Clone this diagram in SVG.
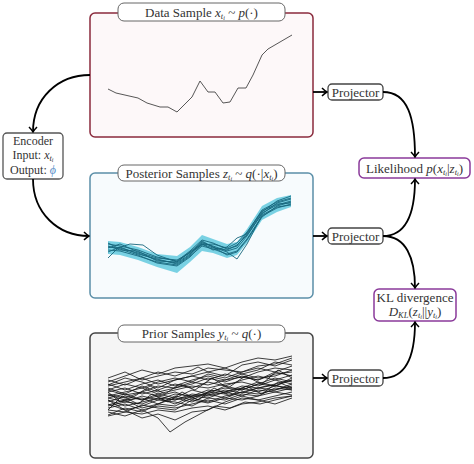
<svg xmlns="http://www.w3.org/2000/svg" width="474" height="464" viewBox="0 0 474 464">
<defs>
<style>
text{font-family:"Liberation Serif","DejaVu Serif",serif;font-size:13px;fill:#333;}
.m{font-style:italic;}
.s{font-size:8.5px;font-style:italic;}
.ss{font-size:6px;font-style:italic;}
.enc{font-size:12px;}
.pill{fill:#fff;stroke:#666;stroke-width:1;}
.proj{fill:#fff;stroke:#444;stroke-width:1.3;}
.conn{fill:none;stroke:#000;stroke-width:1.8;}
.prior polyline{fill:none;stroke:#111;stroke-width:0.9;stroke-opacity:0.9;}
.post polyline{fill:none;stroke:#17667d;stroke-width:0.9;}
</style>
<marker id="ah" viewBox="-6 -5 7 10" refX="0" refY="0" markerWidth="7" markerHeight="10" markerUnits="userSpaceOnUse" orient="auto">
<path d="M-5,-4 Q-2,-1 0,0 Q-2,1 -5,4" fill="none" stroke="#000" stroke-width="1.5"/>
</marker>
</defs>
<rect width="474" height="464" fill="#fff"/>

<g id="data">
<rect x="90" y="13" width="223" height="124" rx="5" fill="#fdf8f9" stroke="#8a2a3c" stroke-width="1.5"/>
<polyline fill="none" stroke="#444" stroke-width="0.9" points="108,89 116,93 138,98 147,103 160,107 168,107 177,112 192,97 200,81 208,92 215,92 223,103 230,102 238,88 246,88 253,75 262,55 268,49 280,42 292,35"/>
<rect class="pill" x="118" y="3" width="167" height="18" rx="6"/>
<text x="201.5" y="16.5" text-anchor="middle">Data Sample <tspan class="m">x</tspan><tspan class="s" dy="2">t</tspan><tspan class="ss" dy="1">i</tspan><tspan dy="-3"> ~ </tspan><tspan class="m">p</tspan>(·)</text>
</g>

<g id="encoder">
<rect x="3" y="133" width="60" height="46" rx="4" fill="#fff" stroke="#555" stroke-width="1.3"/>
<text class="enc" x="33" y="145" text-anchor="middle">Encoder</text>
<text class="enc" x="33" y="159" text-anchor="middle">Input: <tspan class="m">x</tspan><tspan class="s" dy="1.5">t</tspan><tspan class="ss" dy="1">i</tspan></text>
<text class="enc" x="33" y="174" text-anchor="middle">Output: <tspan class="m" style="fill:#5b8fc8">ϕ</tspan></text>
</g>

<g id="posterior">
<rect x="90" y="173" width="223" height="125" rx="5" fill="#f7fbfd" stroke="#5b8fa8" stroke-width="1.5"/>
<polygon fill="#4fc3d9" fill-opacity="0.75" points="108,241 120,242 138,247 157,254 177,256 190,247 202,235 213,239 227,244 237,242 247,229 262,206 277,198 291,195 291,207 277,212 262,220 247,243 237,255 227,258 213,253 202,251 190,262 177,273 157,267 138,260 120,255 108,254"/>
<g class="post">
<polyline points="108,247 120,248 138,253 157,260 177,263 190,254 202,243 213,246 227,251 237,248 247,236 262,213 277,205 291,201"/>
<polyline points="108,244 120,246 138,250 157,257 177,261 190,251 202,240 213,243 227,249 237,246 247,233 262,210 277,202 291,198"/>
<polyline points="108,250 120,251 138,256 157,262 177,265 190,256 202,246 213,249 227,254 237,251 247,239 262,216 277,208 291,204"/>
<polyline points="108,246 120,250 138,251 157,261 177,262 190,252 202,244 213,248 227,250 237,245 247,235 262,214 277,203 291,199"/>
<polyline points="108,252 120,247 138,254 157,259 177,264 190,255 202,241 213,247 227,255 237,252 247,240 262,217 277,206 291,202"/>
<polyline points="108,248 120,244 138,252 157,258 177,260 190,253 202,245 213,244 227,248 237,243 247,232 262,211 277,204 291,203"/>
<polyline points="108,258 118,248 130,244 143,245 157,255 177,262 190,252 202,242 213,247 227,252 237,259 247,244 262,215 277,207 291,205"/>
<polyline points="108,243 120,249 138,255 157,263 177,266 190,257 202,244 213,250 227,247 237,238 247,234 262,212 277,201 291,196"/>
</g>
<rect class="pill" x="118" y="165" width="167" height="16" rx="6"/>
<text x="201.5" y="177.5" text-anchor="middle">Posterior Samples <tspan class="m">z</tspan><tspan class="s" dy="2">t</tspan><tspan class="ss" dy="1">i</tspan><tspan dy="-3"> ~ </tspan><tspan class="m">q</tspan>(·|<tspan class="m">x</tspan><tspan class="s" dy="2">t</tspan><tspan class="ss" dy="1">i</tspan><tspan dy="-3">)</tspan></text>
</g>

<g id="prior">
<rect x="90" y="333" width="223" height="125" rx="5" fill="#f5f5f5" stroke="#444" stroke-width="1.5"/>
<g class="prior">
<polyline points="108,380 125,385 142,378 158,372 175,376 192,370 198,367 208,372 225,376 242,365 258,362 275,366 292,360"/>
<polyline points="108,405 125,400 142,408 158,404 175,398 192,402 208,395 225,390 242,393 258,388 275,385 292,390"/>
<polyline points="108,390 125,395 142,392 158,386 175,388 192,382 208,385 225,380 242,377 258,380 275,374 292,372"/>
<polyline points="108,410 125,412 142,405 158,408 175,410 192,400 208,403 225,398 242,400 258,396 275,392 292,395"/>
<polyline points="108,385 125,378 142,382 158,388 175,380 192,376 208,380 225,374 242,378 258,372 275,368 292,370"/>
<polyline points="108,398 125,402 142,396 158,400 175,394 192,396 208,390 225,392 242,386 258,388 275,384 292,380"/>
<polyline points="108,415 125,408 142,412 158,404 175,406 192,398 208,402 225,396 242,392 258,394 275,390 292,386"/>
<polyline points="108,392 125,388 142,394 158,390 175,384 192,388 208,382 225,386 242,380 258,376 275,380 292,375"/>
<polyline points="108,402 125,396 142,400 158,394 175,398 192,390 208,394 225,386 242,390 258,384 275,378 292,382"/>
<polyline points="108,395 125,400 142,398 158,404 175,396 192,400 208,392 225,394 242,388 258,382 275,386 292,378"/>
<polyline points="108,388 125,394 142,386 158,392 175,388 192,384 208,378 225,382 242,376 258,380 275,372 292,376"/>
<polyline points="108,408 125,404 142,410 158,418 170,432 185,422 200,414 215,406 230,408 245,402 260,404 275,400 292,396"/>
<polyline points="108,378 125,372 142,380 158,376 175,372 192,374 208,368 225,370 242,372 258,366 275,364 292,358"/>
<polyline points="108,400 125,406 142,402 158,398 175,404 192,396 208,398 225,392 242,396 258,390 275,392 292,388"/>
<polyline points="108,412 125,416 142,410 158,406 175,408 192,404 208,400 225,404 242,398 258,400 275,396 292,392"/>
<polyline points="108,384 125,390 142,384 158,380 175,386 192,380 208,376 225,380 242,374 258,378 275,376 292,370"/>
<polyline points="108,396 125,392 142,388 158,394 175,390 192,386 208,388 225,384 242,382 258,386 275,380 292,384"/>
<polyline points="108,404 125,410 142,406 158,400 175,402 192,406 208,398 225,400 242,394 258,396 275,388 292,390"/>
<polyline points="108,390 125,384 142,388 158,382 175,378 192,382 208,374 225,378 242,372 258,368 275,372 292,366"/>
<polyline points="108,398 125,394 142,400 158,396 175,392 192,398 208,392 225,388 242,390 258,384 275,386 292,380"/>
<polyline points="108,416 125,412 142,414 158,410 175,412 192,408 208,406 225,410 242,404 258,402 275,398 292,396"/>
<polyline points="108,386 125,382 142,378 158,384 175,380 192,376 208,372 225,368 242,374 258,370 275,362 292,365"/>
<polyline points="108,394 125,398 142,392 158,396 175,400 192,394 208,396 225,392 242,388 258,392 275,386 292,388"/>
<polyline points="108,406 125,402 142,404 158,398 175,400 192,396 208,394 225,398 242,392 258,388 275,390 292,384"/>
<polyline points="108,400 125,410 142,418 158,414 175,420 192,412 208,410 225,402 242,396 258,400 275,404 292,398"/>
<polyline points="108,382 125,376 142,370 158,374 175,368 192,366 208,364 225,368 242,362 258,358 275,360 292,356"/>
<polyline points="108,392 120,402 135,396 150,386 165,394 180,384 195,390 212,378 228,388 245,376 262,384 278,370 292,378"/>
<polyline points="108,410 122,396 138,404 152,394 168,402 182,392 198,400 214,388 230,396 246,386 262,394 278,382 292,388"/>
</g>
<rect class="pill" x="118" y="325" width="167" height="17" rx="6"/>
<text x="201.5" y="338" text-anchor="middle">Prior Samples <tspan class="m">y</tspan><tspan class="s" dy="2">t</tspan><tspan class="ss" dy="1">i</tspan><tspan dy="-3"> ~ </tspan><tspan class="m">q</tspan>(·)</text>
</g>

<g id="projector1">
<rect class="proj" x="328" y="84" width="55" height="16" rx="4"/>
<text x="355.5" y="96.5" text-anchor="middle">Projector</text>
</g>
<g id="projector2">
<rect class="proj" x="328" y="228" width="55" height="16" rx="4"/>
<text x="355.5" y="240.5" text-anchor="middle">Projector</text>
</g>
<g id="projector3">
<rect class="proj" x="328" y="370" width="55" height="16" rx="4"/>
<text x="355.5" y="382.5" text-anchor="middle">Projector</text>
</g>

<g id="likelihood">
<rect x="359" y="158" width="111" height="20" rx="5" fill="#fff" stroke="#8a3a9a" stroke-width="1.5"/>
<text x="414.5" y="172.5" text-anchor="middle">Likelihood <tspan class="m">p</tspan>(<tspan class="m">x</tspan><tspan class="s" dy="2">t</tspan><tspan class="ss" dy="1">i</tspan><tspan dy="-3">|</tspan><tspan class="m">z</tspan><tspan class="s" dy="2">t</tspan><tspan class="ss" dy="1">i</tspan><tspan dy="-3">)</tspan></text>
</g>

<g id="kl">
<rect x="374" y="289" width="82" height="32" rx="5" fill="#fff" stroke="#8a3a9a" stroke-width="1.5"/>
<text x="415" y="302" text-anchor="middle">KL divergence</text>
<text x="415" y="316" text-anchor="middle"><tspan class="m">D</tspan><tspan class="s" dy="2">KL</tspan><tspan dy="-2">(</tspan><tspan class="m">z</tspan><tspan class="s" dy="2">t</tspan><tspan class="ss" dy="1">i</tspan><tspan dy="-3">||</tspan><tspan class="m">y</tspan><tspan class="s" dy="2">t</tspan><tspan class="ss" dy="1">i</tspan><tspan dy="-3">)</tspan></text>
</g>

<g id="connectors">
<path class="conn" marker-end="url(#ah)" d="M90,75 C58,75 33,98 33,132"/>
<path class="conn" marker-end="url(#ah)" d="M33,179 C33,213 58,236 89,236"/>
<path class="conn" marker-end="url(#ah)" d="M313,92 L327,92"/>
<path class="conn" marker-end="url(#ah)" d="M313,236 L327,236"/>
<path class="conn" marker-end="url(#ah)" d="M313,378 L327,378"/>
<path class="conn" marker-end="url(#ah)" d="M383,92 C408,92 415,118 415,157"/>
<path class="conn" marker-end="url(#ah)" d="M383,236 C406,236 415,214 415,179"/>
<path class="conn" marker-end="url(#ah)" d="M383,236 C406,236 415,258 415,288"/>
<path class="conn" marker-end="url(#ah)" d="M383,378 C408,378 415,352 415,322"/>
</g>
</svg>
